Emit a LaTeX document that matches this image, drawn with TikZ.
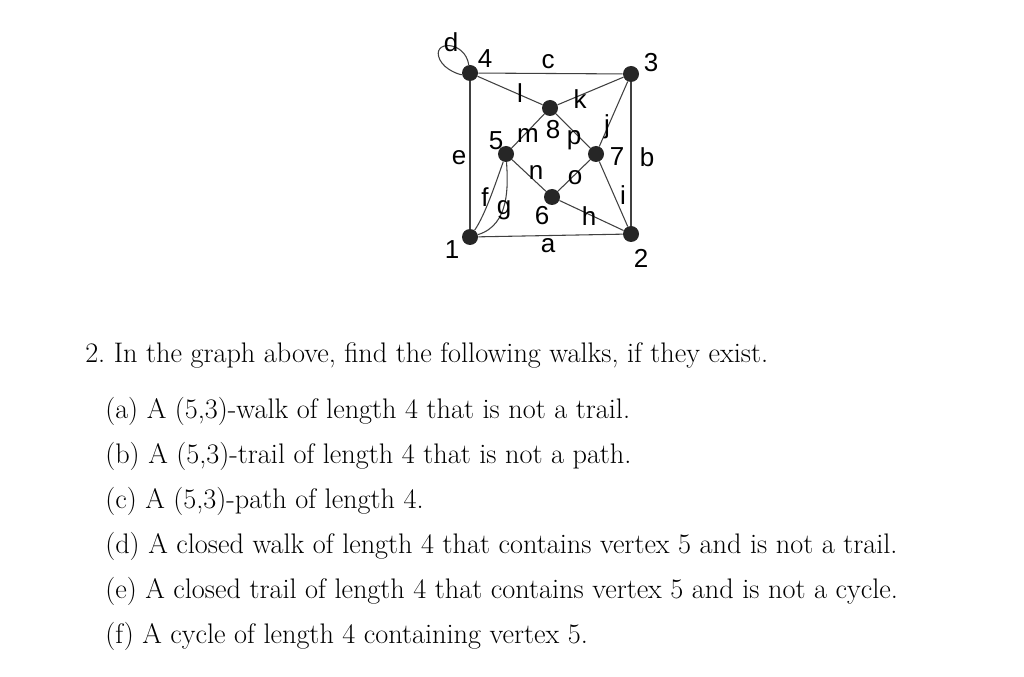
\documentclass[tikz,border=0pt]{standalone}
\usepackage{fontspec}
\newfontfamily\gfont{Liberation Sans}
\begin{document}
\begin{tikzpicture}[x=0.75pt,y=-0.75pt,
  v/.style={circle,fill=black!85,inner sep=0pt,minimum size=12pt},
  e/.style={draw=black!75,line width=0.8pt},
  lb/.style={font=\gfont\fontsize{19.5}{21}\selectfont,inner sep=0pt},
  tx/.style={anchor=base west,font=\fontsize{21.2}{25}\selectfont,inner sep=0pt}]
\useasboundingbox (0,0) rectangle (1024,677);
\node[v] (v4) at (470,73) {};
\node[v] (v3) at (631,74) {};
\node[v] (v8) at (550,108) {};
\node[v] (v5) at (506,154) {};
\node[v] (v7) at (596,154) {};
\node[v] (v6) at (552,197) {};
\node[v] (v1) at (470,237) {};
\node[v] (v2) at (631,234) {};
\draw[e] (v4)--(v3); \draw[e] (v4)--(v1); \draw[e] (v3)--(v2); \draw[e] (v1)--(v2);
\draw[e] (v4)--(v8); \draw[e] (v3)--(v8); \draw[e] (v3)--(v7); \draw[e] (v8)--(v5);
\draw[e] (v8)--(v7); \draw[e] (v5)--(v6); \draw[e] (v7)--(v6); \draw[e] (v6)--(v2);
\draw[e] (v7)--(v2);
\draw[e] (v5) .. controls (495,185) and (485,215) .. (v1);
\draw[e] (v5) .. controls (508,185) and (510,225) .. (v1);
\draw[e] (v4) .. controls (465,40) and (430,40) .. (440,60) .. controls (445,70) and (460,75) .. (v4);
\node[lb] (l4) at (485,59) {4};
\node[lb] (l3) at (651,63) {3};
\node[lb] (l8) at (553,130) {8};
\node[lb] (l5) at (496,141) {5};
\node[lb] (l7) at (617,157) {7};
\node[lb] (l6) at (542,216) {6};
\node[lb] (l1) at (452,250) {1};
\node[lb] (l2) at (641,258) {2};
\node[lb] (lc) at (548,62) {c};
\node[lb] (ld) at (451,42) {d};
\node[lb] (ll) at (520,93) {l};
\node[lb] (lk) at (580,99) {k};
\node[lb] (lm) at (528,136) {m};
\node[lb] (lp) at (574,140) {p};
\node[lb] (lj) at (607,127) {j};
\node[lb] (lb) at (647,157) {b};
\node[lb] (le) at (459,158) {e};
\node[lb] (ln) at (536,173) {n};
\node[lb] (lo) at (575,178) {o};
\node[lb] (lf) at (485,197) {f};
\node[lb] (lg) at (504,210) {g};
\node[lb] (lh) at (589,216) {h};
\node[lb] (li) at (623,195) {i};
\node[lb] (la) at (548,246) {a};
\node[tx] (q) at (85,362) {2.\ In the graph above, find the following walks, if they exist.};
\node[tx] (qa) at (105,418) {(a)\ A (5,3)-walk of length 4 that is not a trail.};
\node[tx] (qb) at (105,463) {(b)\ A (5,3)-trail of length 4 that is not a path.};
\node[tx] (qc) at (105,508) {(c)\ A (5,3)-path of length 4.};
\node[tx] (qd) at (105,553) {(d)\ A closed walk of length 4 that contains vertex 5 and is not a trail.};
\node[tx] (qe) at (105,598) {(e)\ A closed trail of length 4 that contains vertex 5 and is not a cycle.};
\node[tx] (qf) at (105,643) {(f)\ A cycle of length 4 containing vertex 5.};
\end{tikzpicture}
\end{document}
